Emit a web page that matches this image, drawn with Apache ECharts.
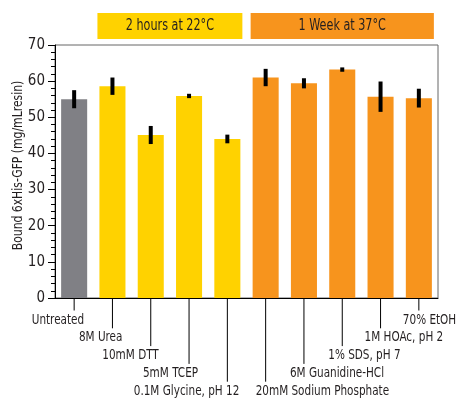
<!DOCTYPE html>
<html>
<head>
<meta charset="utf-8">
<script src="https://cdn.jsdelivr.net/npm/echarts@6/dist/echarts.min.js"></script>
<style>
html,body{margin:0;padding:0;background:#fff;}
#c{width:470px;height:413px;}
</style>
</head>
<body>
<div id="c"></div>
<script>
// ---- data ----
var categories = ['Untreated','8M Urea','10mM DTT','5mM TCEP','0.1M Glycine, pH 12',
  '20mM Sodium Phosphate','6M Guanidine-HCl','1% SDS, pH 7','1M HOAc, pH 2','70% EtOH'];
var values = [55.0, 58.6, 45.1, 55.9, 44.0, 61.0, 59.4, 63.2, 55.7, 55.3];
var errors = [2.5, 2.4, 2.5, 0.6, 1.2, 2.4, 1.4, 0.6, 4.2, 2.6];
var groupLabels = ['2 hours at 22°C', '1 Week at 37°C'];
var groupStart = [1, 5];
var groupEnd = [4, 9];
var yTicks = [0, 10, 20, 30, 40, 50, 60, 70];
var yTitle = 'Bound 6xHis-GFP (mg/mLresin)';

// ---- style / layout ----
var FONT = "'Liberation Sans Narrow','DejaVu Sans Condensed','Noto Sans',sans-serif";
var TXT = '#231f20';
var SX = 0.83;
var GRAY = '#808085', YEL = '#FFD200', ORG = '#F7941D';
var barColors = [GRAY, YEL, YEL, YEL, YEL, ORG, ORG, ORG, ORG, ORG];
var groupColors = [YEL, ORG];
var labelRow = [0, 1, 2, 3, 4, 4, 3, 2, 1, 0];
var labelAlign = ['right','right','right','right','right','left','left','left','left','left'];
var labelDx = [10, 10, 8, 9, 12, -10, -14, -14, -16, -16];

var chart = echarts.init(document.getElementById('c'));
var option = {
  animation: false,
  grid: { left: 55, right: 32, top: 45, bottom: 115, show: true, borderColor: '#666', borderWidth: 1 },
  xAxis: {
    type: 'category', data: categories,
    axisLine: { lineStyle: { color: '#000', width: 1 } },
    axisTick: { show: false }, axisLabel: { show: false }
  },
  yAxis: {
    type: 'value', min: yTicks[0], max: yTicks[yTicks.length - 1], interval: 10,
    axisLine: { show: true, lineStyle: { color: '#000', width: 1 } },
    axisTick: { show: true, length: 7, lineStyle: { color: '#000' } },
    minorTick: { show: true, splitNumber: 5, length: 4, lineStyle: { color: '#000' } },
    splitLine: { show: false },
    axisLabel: { fontFamily: FONT, fontSize: 15, color: TXT, margin: 10 }
  },
  series: [
    {
      type: 'bar', barWidth: '68%',
      data: values.map(function (v, i) { return { value: v, itemStyle: { color: barColors[i] } }; }),
      z: 2
    },
    {
      type: 'custom', z: 3, clip: false,
      data: values.map(function (v, i) { return [i, v - errors[i], v + errors[i]]; }),
      renderItem: function (params, api) {
        var lo = api.coord([api.value(0), api.value(1)]);
        var hi = api.coord([api.value(0), api.value(2)]);
        return { type: 'rect', shape: { x: lo[0] - 2, y: hi[1], width: 4, height: lo[1] - hi[1] },
          style: { fill: '#000' } };
      }
    },
    {
      type: 'custom', z: 4, clip: false, silent: true,
      data: categories.map(function (c, i) { return [i, 0]; }),
      renderItem: function (params, api) {
        var i = api.value(0);
        var p = api.coord([i, 0]);
        var row = labelRow[i];
        var tickLen = 12.5 + row * 17.8;
        var cy = p[1] + 22 + row * 17.8;
        var tx = p[0] + labelDx[i];
        return { type: 'group', children: [
          { type: 'line', shape: { x1: p[0], y1: p[1], x2: p[0], y2: p[1] + tickLen },
            style: { stroke: '#000', lineWidth: 1 } },
          { type: 'text', x: tx, y: cy, scaleX: SX,
            style: { text: categories[i], fill: TXT, font: '14px ' + FONT,
              textAlign: labelAlign[i], textVerticalAlign: 'middle' } }
        ] };
      }
    },
    {
      type: 'custom', z: 4, clip: false, silent: true,
      data: groupLabels.map(function (g, k) { return [groupStart[k], groupEnd[k], k]; }),
      renderItem: function (params, api) {
        var k = api.value(2);
        var half = api.size([1, 0])[0] * 0.34;
        var a = api.coord([api.value(0), 70]);
        var b = api.coord([api.value(1), 70]);
        var x0 = a[0] - half - 2, x1 = b[0] + half + 2;
        var y0 = a[1] - 32, h = 26;
        return { type: 'group', children: [
          { type: 'rect', shape: { x: x0, y: y0, width: x1 - x0, height: h }, style: { fill: groupColors[k] } },
          { type: 'text', x: (x0 + x1) / 2, y: y0 + h / 2, scaleX: SX,
            style: { text: groupLabels[k], fill: TXT, font: '15px ' + FONT, textAlign: 'center', textVerticalAlign: 'middle' } }
        ] };
      }
    },
    {
      type: 'custom', z: 4, clip: false, silent: true,
      data: [[0]],
      renderItem: function (params, api) {
        var top = api.coord([0, yTicks[yTicks.length - 1]]);
        var bot = api.coord([0, yTicks[0]]);
        var axisX = params.coordSys.x;
        return { type: 'text', x: axisX - 37, y: (top[1] + bot[1]) / 2 - 6,
          rotation: Math.PI / 2, scaleX: SX,
          style: { text: yTitle, fill: TXT, font: '14.5px ' + FONT, textAlign: 'center', textVerticalAlign: 'middle' } };
      }
    }
  ]
};
chart.setOption(option);
</script>
</body>
</html>
